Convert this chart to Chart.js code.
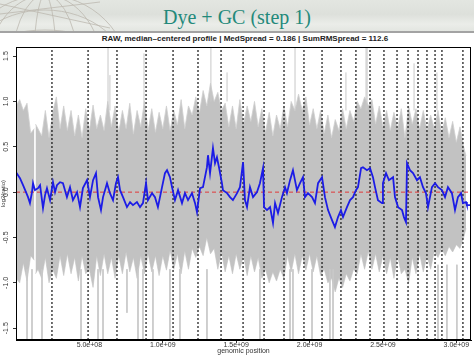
<!DOCTYPE html>
<html>
<head>
<meta charset="utf-8">
<script src="https://cdn.jsdelivr.net/npm/chart.js@4/dist/chart.umd.min.js"></script>
<style>
  html,body{margin:0;padding:0;width:474px;height:355px;overflow:hidden;background:#fff;}
  #hdr{position:absolute;left:0;top:0;width:474px;height:32px;overflow:hidden;
       background:linear-gradient(to bottom,#e3e6e1 0%,#dde0db 45%,#ebede9 75%,#e2e5e0 100%);}
  #sep{position:absolute;left:0;top:31px;width:474px;height:2px;background:#a3a3a3;}
  #t1{position:absolute;left:0;top:6px;width:474px;text-align:center;font-family:"Liberation Serif","DejaVu Serif",serif;
      font-size:20px;line-height:22px;color:#23897a;}
  #t2{position:absolute;left:4px;top:34px;width:482px;text-align:center;font-family:"Liberation Sans",Arial,sans-serif;
      font-weight:bold;font-size:8px;line-height:10px;color:#222;}
  #c{position:absolute;left:0;top:0;}
</style>
</head>
<body>
<div id="hdr">
  <svg width="474" height="32" xmlns="http://www.w3.org/2000/svg">
    <g fill="none" stroke="#bdb9b0" stroke-width="0.8">
      <circle cx="45" cy="80" r="85"/>
      <ellipse cx="45" cy="80" rx="60" ry="85"/>
      <ellipse cx="45" cy="80" rx="35" ry="85"/>
      <ellipse cx="45" cy="80" rx="12" ry="85"/>
      <ellipse cx="45" cy="80" rx="85" ry="70"/>
      <ellipse cx="45" cy="80" rx="85" ry="50"/>
      <ellipse cx="45" cy="80" rx="85" ry="30"/>
      <line x1="0" y1="4" x2="110" y2="28"/>
      <line x1="0" y1="14" x2="100" y2="2"/>
    </g>
  </svg>
</div>
<div id="sep"></div>
<div id="t1">Dye + GC (step 1)</div>
<div id="t2">RAW, median–centered profile | MedSpread = 0.186 | SumRMSpread = 112.6</div>
<canvas id="c" width="474" height="355"></canvas>
<script>
// ---- data (genomic positions in Mb, values in log2 ratio) ----
const chromBounds = [245,491,688,886,1070,1240,1397,1547,1690,1826,1962,2085,2214,2316,2412,2507,2596,2671,2739,2800,2855,2902,3045];

const smoothPos = [0,27,48,68,82,95,109,116,129,150,164,184,198,211,232,252,266,279,300,320,347,368,388,416,436,456,484,504,525,545,559,579,593,620,640,661,681,695,709,729,756,777,797,824,845,865,886,899,927,947,967,995,1015,1029,1049,1063,1083,1104,1131,1151,1172,1199,1220,1233,1254,1274,1301,1308,1322,1342,1356,1369,1383,1403,1410,1438,1458,1478,1506,1526,1547,1560,1574,1594,1615,1642,1662,1683,1690,1710,1731,1751,1765,1785,1812,1833,1846,1867,1887,1914,1935,1955,1969,1989,2017,2037,2058,2085,2105,2126,2153,2173,2194,2214,2228,2255,2276,2296,2316,2330,2351,2364,2391,2412,2432,2446,2466,2494,2500,2521,2541,2569,2582,2603,2630,2643,2657,2664,2684,2705,2732,2752,2773,2793,2807,2834,2855,2875,2902,2923,2943,2970,2991,3011,3032,3045,3066,3072,3100];
const smoothVal = [0.22,0.154,0.077,0,-0.055,-0.12,0.0,0.099,0.022,0.044,0.077,-0.176,-0.033,0.044,-0.088,0.11,0,0.077,0.11,0.099,-0.055,0.055,-0.088,0,-0.165,0.044,0.132,-0.055,0.132,0.209,-0.055,-0.198,-0.055,0.099,-0.011,-0.088,0.099,0.165,0.022,-0.055,-0.165,-0.11,-0.143,-0.11,-0.165,-0.121,0.099,-0.088,-0.011,-0.055,-0.165,0.055,0.209,0.242,0.165,0.055,-0.088,0.022,-0.121,-0.011,-0.088,-0.011,-0.121,-0.22,0.044,0.055,0.275,0.407,0.209,0.484,0.319,0.385,0.275,0.099,0.022,-0.011,-0.055,-0.088,-0.011,0.055,0.33,-0.088,-0.165,0.055,-0.055,0,0.099,0.264,-0.165,-0.198,-0.165,-0.34,-0.121,-0.23,-0.055,0.055,-0.011,0.132,0.242,0.022,0.099,0.165,-0.055,-0.011,-0.055,-0.121,0.099,0.165,-0.055,-0.198,-0.308,-0.385,-0.275,-0.198,-0.275,-0.165,-0.088,-0.055,0.022,0.055,0.264,0.275,0.242,0.264,0.165,0.055,-0.088,-0.121,0.099,0.209,0.132,0.165,-0.055,-0.165,-0.198,-0.275,-0.33,0.319,0.242,0.209,0.132,0.165,0.055,-0.011,-0.165,0.055,0.099,0.055,0.022,-0.055,0.055,-0.011,-0.198,-0.055,-0.011,-0.121,-0.11,-0.143,-0.143];

const bandPos = [0,25,50,75,100,125,129,133,150,175,200,225,250,275,300,325,350,375,400,425,450,475,500,525,550,575,600,625,650,675,700,725,750,775,800,825,850,875,900,925,950,975,1000,1025,1050,1075,1100,1125,1150,1175,1200,1225,1250,1275,1300,1325,1350,1375,1400,1425,1450,1475,1500,1525,1550,1575,1600,1625,1650,1675,1700,1725,1750,1775,1800,1825,1850,1875,1900,1925,1950,1975,2000,2025,2050,2075,2100,2125,2150,2175,2200,2225,2250,2275,2300,2325,2350,2375,2400,2425,2450,2475,2500,2525,2550,2575,2600,2625,2650,2675,2700,2725,2750,2775,2800,2825,2850,2875,2900,2925,2950,2975,3000,3025,3050,3066];
const bandUpper = [0.95,1.02,0.9,0.98,0.65,0.7,null,0.75,0.7,0.62,0.9,0.6,0.88,1.05,0.7,0.95,0.68,0.9,0.62,0.85,0.6,0.92,0.68,0.96,0.7,0.85,0.68,1.0,0.72,0.95,0.66,0.9,0.7,0.98,0.64,0.9,0.72,1.0,0.68,0.92,0.66,0.88,0.7,0.95,0.68,0.9,0.74,1.02,0.7,0.95,0.85,1.05,0.88,1.12,0.95,1.2,1.0,1.1,0.9,0.98,0.72,0.95,0.7,1.02,0.75,0.95,0.78,1.0,0.72,0.92,0.66,0.88,0.62,0.85,0.7,0.95,0.72,1.0,0.9,1.08,0.9,1.05,0.74,0.92,0.7,0.9,0.65,0.85,0.6,0.8,0.68,0.92,0.7,0.9,0.78,1.0,0.92,1.05,0.95,1.02,0.75,0.95,0.72,0.9,0.68,0.88,0.7,0.92,0.6,0.95,0.75,0.92,0.7,0.9,0.68,0.85,0.7,0.9,0.65,0.82,0.6,0.78,0.55,0.72,0.5,0.4];
const bandLower = [-0.95,-1.0,-0.78,-0.98,-0.7,-0.75,null,-0.9,-0.85,-0.95,-0.72,-1.0,-0.85,-0.95,-0.7,-0.92,-0.68,-0.9,-0.72,-0.98,-0.7,-0.9,-0.85,-1.05,-0.7,-0.92,-0.68,-0.9,-0.72,-0.95,-0.7,-0.9,-0.66,-0.88,-0.72,-0.95,-0.7,-0.9,-0.68,-0.88,-0.7,-0.92,-0.7,-0.86,-0.64,-0.85,-0.68,-0.9,-0.65,-0.85,-0.62,-0.72,-0.6,-0.7,-0.5,-0.68,-0.62,-0.85,-0.66,-0.88,-0.7,-0.9,-0.68,-0.85,-0.7,-0.92,-0.7,-0.88,-0.72,-0.95,-0.85,-1.0,-0.88,-0.98,-0.85,-0.95,-0.7,-0.88,-0.68,-0.9,-0.7,-0.86,-0.68,-0.88,-0.7,-0.92,-0.85,-1.0,-0.95,-1.1,-0.95,-1.05,-0.9,-0.98,-0.85,-0.9,-0.68,-0.85,-0.65,-0.85,-0.68,-0.88,-0.7,-0.9,-0.72,-0.95,-0.7,-0.9,-0.85,-1.0,-0.72,-0.9,-0.68,-0.88,-0.7,-0.85,-0.65,-0.72,-0.62,-0.7,-0.6,-0.66,-0.58,-0.62,-0.5,-0.4];

const outlierPos  = [75,109,177,443,559,593,831,865,933,1049,1117,1301,1662,1867,1887,2017,2139,2160,2875,2936,3004,756,627,1328,1901,2385,2392,640,872,1438,2248,2712,2868];
const outlierFrom = [-0.85,-0.85,-0.85,-0.85,-0.85,-0.85,-0.85,-0.85,-0.85,-0.85,-0.85,-0.85,-0.85,-0.85,-0.85,-0.85,-0.85,-0.85,-0.8,-0.8,-0.8,-0.85,0.9,1.0,0.9,0.9,0.9,0.9,0.9,1.0,0.9,0.9,0.9];
const outlierTo   = [-1.63,-1.63,-1.63,-1.63,-1.63,-1.63,-1.63,-1.63,-1.63,-1.63,-1.63,-1.63,-1.63,-1.63,-1.63,-1.63,-1.63,-1.63,-1.63,-1.63,-1.63,-1.33,1.6,1.6,1.6,1.6,1.6,1.29,1.53,1.32,1.32,1.42,1.32];

const xTicks = [5e8,1e9,1.5e9,2e9,2.5e9,3e9];
const yTicks = [-1.5,-1.0,-0.5,0,0.5,1.0,1.5];
const X_MIN = 0, X_MAX = 3.1e9, Y_MIN = -1.63, Y_MAX = 1.6;
const MB = 1e6;

// ---- build datasets ----
const smoothData = smoothPos.map((p,i)=>({x:p*MB,y:smoothVal[i]}));
const upperData = bandPos.map((p,i)=>({x:p*MB,y:bandUpper[i]}));
const lowerData = bandPos.map((p,i)=>({x:p*MB,y:bandLower[i]}));
const outData = outlierPos.flatMap((p,i)=>[{x:p*MB,y:outlierFrom[i]},{x:p*MB,y:outlierTo[i]},{x:p*MB,y:null}]);
const chromData = chromBounds.flatMap(p=>[{x:p*MB,y:Y_MIN},{x:p*MB,y:Y_MAX},{x:p*MB,y:null}]);
const zeroData = [{x:X_MIN,y:0},{x:X_MAX,y:0}];

function sci(v){
  const e = Math.floor(Math.log10(v)+1e-9);
  const m = v/Math.pow(10,e);
  return m.toFixed(1)+'e+'+String(e).padStart(2,'0');
}

const frame = {
  id:'frame',
  afterDatasetsDraw(chart){
    const a = chart.chartArea, c = chart.ctx;
    c.save(); c.strokeStyle='#000'; c.lineWidth=1;
    c.strokeRect(Math.round(a.left)+0.5, Math.round(a.top)+0.5, Math.round(a.right-a.left)-1, Math.round(a.bottom-a.top)-1);
    c.restore();
  }
};

new Chart(document.getElementById('c'), {
  type:'line',
  data:{datasets:[
    {label:'band-upper', data:upperData, borderColor:'#cfcfcf', borderWidth:0.8, backgroundColor:'#c2c2c2', fill:'+1', pointRadius:0, order:5, tension:0},
    {label:'band-lower', data:lowerData, borderColor:'#cfcfcf', borderWidth:0.8, fill:false, pointRadius:0, order:5, tension:0},
    {label:'outliers', data:outData, borderColor:'#c8c8c8', borderWidth:1, fill:false, pointRadius:0, order:4, spanGaps:false},
    {label:'chrom', data:chromData, borderColor:'#111', borderWidth:1.2, borderDash:[2,2], fill:false, pointRadius:0, order:3, spanGaps:false},
    {label:'zero', data:zeroData, borderColor:'#e0393a', borderWidth:1, borderDash:[4,3], fill:false, pointRadius:0, order:2},
    {label:'smoothed', data:smoothData, borderColor:'#1c1ce6', borderWidth:1.8, fill:false, pointRadius:0, order:1, tension:0}
  ]},
  options:{
    responsive:false, animation:false, events:[],
    layout:{padding:{top:47,right:3,left:0,bottom:0}},
    plugins:{legend:{display:false}, tooltip:{enabled:false}, title:{display:false}},
    scales:{
      x:{type:'linear', min:X_MIN, max:X_MAX,
         afterBuildTicks:s=>{s.ticks = xTicks.map(v=>({value:v}));},
         afterFit:s=>{s.height=15;},
         grid:{drawOnChartArea:false, drawTicks:true, tickLength:3, color:'#333'},
         border:{display:true, color:'#000'},
         ticks:{callback:v=>sci(v), font:{size:7, family:'"Liberation Sans", Arial, sans-serif'}, color:'#333', padding:-2, maxRotation:0, minRotation:0, autoSkip:false},
         title:{display:true, text:'genomic position', font:{size:7, family:'"Liberation Sans", Arial, sans-serif'}, color:'#333', padding:{top:0,bottom:0}}
      },
      y:{type:'linear', min:Y_MIN, max:Y_MAX,
         afterBuildTicks:s=>{s.ticks = yTicks.map(v=>({value:v}));},
         afterFit:s=>{s.width=16;},
         grid:{drawOnChartArea:false, drawTicks:true, tickLength:3, color:'#333'},
         border:{display:true, color:'#000'},
         ticks:{callback:v=>v.toFixed(1), font:{size:7, family:'"Liberation Sans", Arial, sans-serif'}, color:'#333', padding:1, minRotation:90, maxRotation:90, crossAlign:'center', autoSkip:false},
         title:{display:true, text:'log2(ratio)', font:{size:6, family:'"Liberation Sans", Arial, sans-serif'}, color:'#333', padding:{top:0,bottom:0}}
      }
    }
  },
  plugins:[frame]
});
</script>
</body>
</html>
